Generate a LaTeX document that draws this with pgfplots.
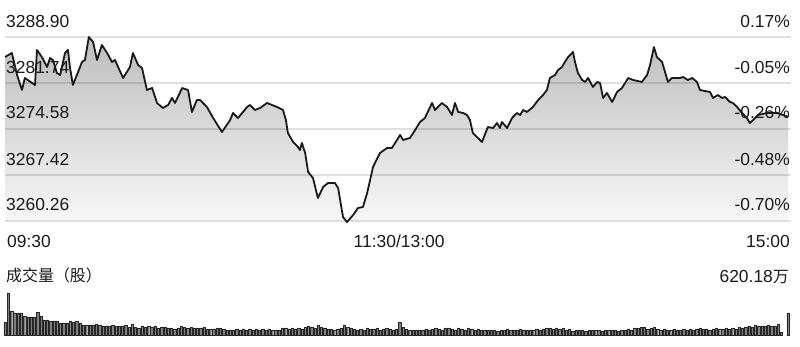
\documentclass[border=0pt]{standalone}
\usepackage{pgfplots}
\pgfplotsset{compat=1.18}
\usepackage{pgfplotstable}
\usepackage{fontspec}
\setmainfont{Liberation Sans}
\newfontfamily\cjk{Noto Sans CJK SC}
\definecolor{txt}{HTML}{1A1A1A}
\tikzset{lab/.style={text=txt, inner sep=0pt}}

\pgfplotstableread{
t p
0 3285.79
2.1 3286.41
3.7 3282.99
5.2 3280.65
6.1 3282.52
8.3 3281.74
9.2 3281.43
9.8 3286.88
11.3 3285.79
12.9 3284.23
13.8 3285.63
14.7 3285.32
15.9 3283.30
16.9 3282.99
18.4 3286.41
19.3 3286.88
19.9 3284.23
20.8 3281.43
22.4 3283.45
23.6 3285.01
24.5 3285.32
25.7 3288.90
27.0 3288.12
28.2 3285.32
29.7 3287.65
31.3 3286.41
32.8 3285.01
33.7 3285.32
36.2 3282.52
38.3 3284.23
39.2 3286.41
40.8 3284.54
42.0 3284.07
43.5 3280.65
45.1 3280.96
46.6 3278.63
48.4 3277.85
50.0 3278.32
51.2 3279.41
52.1 3278.63
54.3 3280.96
56.1 3280.65
57.3 3277.23
58.8 3279.09
59.8 3279.09
61.9 3278.00
63.8 3276.29
66.5 3274.11
69.0 3275.98
69.9 3277.07
71.4 3276.29
74.2 3278.00
75.1 3278.32
76.6 3277.54
78.2 3277.85
80.3 3278.63
83.4 3278.00
85.2 3277.54
86.1 3275.98
86.7 3273.96
88.3 3272.56
89.8 3271.78
90.4 3271.31
91.0 3272.40
92.0 3270.84
92.9 3267.89
94.4 3266.95
95.9 3263.84
97.5 3265.55
99.0 3266.18
101.1 3266.18
102.1 3265.40
103.6 3260.88
104.8 3260.10
106.7 3261.19
108.2 3262.28
109.7 3262.44
111.0 3264.62
112.8 3268.67
114.9 3270.84
117.1 3271.62
118.6 3271.62
121.1 3273.65
122.0 3272.87
124.1 3273.18
125.7 3274.42
127.2 3275.67
128.7 3276.29
130.9 3278.63
131.8 3277.54
133.9 3278.63
135.5 3278.00
137.0 3276.76
137.9 3278.63
138.9 3277.23
140.4 3277.07
141.6 3276.76
142.5 3275.98
143.4 3273.96
146.2 3272.56
148.0 3274.89
149.6 3274.74
150.8 3275.51
151.7 3274.74
152.3 3275.67
153.9 3274.74
155.4 3276.29
156.9 3277.07
157.9 3276.76
158.8 3277.54
160.0 3277.23
161.8 3278.00
163.4 3279.09
164.9 3279.87
166.1 3280.65
167.0 3282.52
168.6 3282.99
169.5 3283.76
170.7 3284.23
171.6 3285.01
172.6 3285.79
174.1 3286.57
174.7 3285.01
175.6 3283.30
176.9 3282.21
177.8 3281.90
178.7 3282.52
180.2 3281.12
181.5 3281.90
182.4 3281.74
183.3 3279.41
184.5 3280.18
186.1 3278.78
187.6 3280.34
189.1 3280.96
191.0 3282.52
192.5 3282.21
195.2 3281.90
196.8 3282.99
197.7 3284.54
198.9 3287.34
199.8 3285.79
201.4 3285.01
202.3 3283.45
203.2 3281.90
204.4 3282.52
206.9 3282.52
207.8 3282.67
209.3 3282.21
210.6 3282.52
212.1 3281.90
213.0 3280.65
216.1 3280.34
217.0 3279.41
218.5 3279.87
219.8 3279.41
220.7 3279.56
222.2 3278.78
223.1 3278.63
224.4 3278.00
225.9 3277.07
227.4 3276.29
228.3 3275.51
229.3 3275.98
230.8 3276.76
233.6 3277.07
236.6 3277.07
238.5 3276.76
240 3276.45
}\pricedata

\begin{document}
\fontsize{17.5}{20}\selectfont
\begin{tikzpicture}
\path[use as bounding box, fill=white] (0,0) rectangle (800bp,347bp);
\begin{axis}[at={(5bp,126bp)}, anchor=south west, scale only axis,
  width=786.3bp, height=221bp, xmin=0, xmax=241,
  ymin=3260.26, ymax=3294.66, hide axis, clip=false]
\addplot[draw=none, top color=black!26, bottom color=black!3] table[x=t,y=p]{\pricedata}
  -- (axis cs:240,3260.26) -- (axis cs:0,3260.26) -- cycle;
\addplot[black, opacity=0.12, line width=1.6bp] coordinates {(0,3288.90)(241,3288.90)};
\addplot[black, opacity=0.12, line width=1.6bp] coordinates {(0,3281.74)(241,3281.74)};
\addplot[black, opacity=0.12, line width=1.6bp] coordinates {(0,3274.58)(241,3274.58)};
\addplot[black, opacity=0.12, line width=1.6bp] coordinates {(0,3267.42)(241,3267.42)};
\addplot[black, opacity=0.12, line width=1.6bp] coordinates {(0,3260.26)(241,3260.26)};
\addplot[black!90, line width=1.8bp, line join=round] table[x=t,y=p]{\pricedata};
\node[lab, anchor=base west, xshift=1bp, yshift=10bp] at (axis cs:0,3288.90) {3288.90};
\node[lab, anchor=base west, xshift=1bp, yshift=10bp] at (axis cs:0,3281.74) {3281.74};
\node[lab, anchor=base west, xshift=1bp, yshift=10bp] at (axis cs:0,3274.58) {3274.58};
\node[lab, anchor=base west, xshift=1bp, yshift=10bp] at (axis cs:0,3267.42) {3267.42};
\node[lab, anchor=base west, xshift=1bp, yshift=10bp] at (axis cs:0,3260.26) {3260.26};
\node[lab, anchor=base east, xshift=2bp, yshift=10bp] at (axis cs:240,3288.90) {0.17\%};
\node[lab, anchor=base east, xshift=2bp, yshift=10bp] at (axis cs:240,3281.74) {-0.05\%};
\node[lab, anchor=base east, xshift=2bp, yshift=10bp] at (axis cs:240,3274.58) {-0.26\%};
\node[lab, anchor=base east, xshift=2bp, yshift=10bp] at (axis cs:240,3267.42) {-0.48\%};
\node[lab, anchor=base east, xshift=2bp, yshift=10bp] at (axis cs:240,3260.26) {-0.70\%};
\node[lab, anchor=base west, xshift=2bp, yshift=-26.5bp] at (axis cs:0,3260.26) {09:30};
\node[lab, anchor=base, yshift=-26.5bp] at (axis cs:120.8,3260.26) {11:30/13:00};
\node[lab, anchor=base east, xshift=2bp, yshift=-26.5bp] at (axis cs:240,3260.26) {15:00};
\node[lab, anchor=base west, xshift=1bp, yshift=-60.5bp] at (axis cs:0,3260.26) {\cjk\fontsize{16}{18}\selectfont 成交量（股）};
\node[lab, anchor=base east, xshift=1bp, yshift=-61.5bp] at (axis cs:240,3260.26) {620.18\cjk\fontsize{16}{18}\selectfont 万};
\end{axis}
\begin{axis}[at={(5bp,12bp)}, anchor=south west, scale only axis,
  width=786.3bp, height=42bp, xmin=0, xmax=241, ymin=0, ymax=620.18,
  hide axis, clip=false, ybar, bar width=2.3bp]
\addplot[fill=black!50, draw=black!85, line width=0.35bp] coordinates {
(0,192.0)(1,620.2)(2,354.4)(3,324.9)(4,324.9)(5,324.9)(6,280.6)(7,265.8)(8,265.8)(9,265.8)
(10,339.6)(11,280.6)(12,221.5)(13,221.5)(14,206.7)(15,206.7)(16,206.7)(17,177.2)(18,177.2)(19,177.2)
(20,206.7)(21,192.0)(22,206.7)(23,177.2)(24,147.7)(25,147.7)(26,147.7)(27,147.7)(28,162.4)(29,147.7)
(30,132.9)(31,132.9)(32,132.9)(33,147.7)(34,132.9)(35,132.9)(36,132.9)(37,147.7)(38,118.1)(39,162.4)
(40,118.1)(41,103.4)(42,132.9)(43,118.1)(44,132.9)(45,118.1)(46,132.9)(47,103.4)(48,118.1)(49,118.1)
(50,103.4)(51,103.4)(52,88.6)(53,103.4)(54,132.9)(55,118.1)(56,103.4)(57,118.1)(58,103.4)(59,103.4)
(60,103.4)(61,118.1)(62,88.6)(63,88.6)(64,88.6)(65,103.4)(66,103.4)(67,88.6)(68,73.8)(69,73.8)
(70,73.8)(71,88.6)(72,73.8)(73,88.6)(74,73.8)(75,88.6)(76,73.8)(77,88.6)(78,73.8)(79,88.6)
(80,73.8)(81,88.6)(82,73.8)(83,73.8)(84,73.8)(85,103.4)(86,103.4)(87,88.6)(88,103.4)(89,88.6)
(90,103.4)(91,88.6)(92,118.1)(93,132.9)(94,118.1)(95,103.4)(96,147.7)(97,118.1)(98,103.4)(99,88.6)
(100,88.6)(101,73.8)(102,88.6)(103,103.4)(104,147.7)(105,118.1)(106,103.4)(107,88.6)(108,73.8)(109,88.6)
(110,73.8)(111,103.4)(112,88.6)(113,88.6)(114,103.4)(115,73.8)(116,88.6)(117,103.4)(118,88.6)(119,73.8)
(120,88.6)(121,192.0)(122,118.1)(123,88.6)(124,73.8)(125,73.8)(126,73.8)(127,73.8)(128,73.8)(129,88.6)
(130,73.8)(131,88.6)(132,103.4)(133,88.6)(134,73.8)(135,103.4)(136,103.4)(137,88.6)(138,73.8)(139,103.4)
(140,88.6)(141,73.8)(142,103.4)(143,88.6)(144,73.8)(145,88.6)(146,73.8)(147,73.8)(148,73.8)(149,73.8)
(150,73.8)(151,59.1)(152,73.8)(153,73.8)(154,88.6)(155,73.8)(156,73.8)(157,73.8)(158,88.6)(159,73.8)
(160,73.8)(161,73.8)(162,73.8)(163,88.6)(164,73.8)(165,88.6)(166,103.4)(167,103.4)(168,88.6)(169,103.4)
(170,88.6)(171,103.4)(172,73.8)(173,88.6)(174,59.1)(175,73.8)(176,73.8)(177,73.8)(178,59.1)(179,73.8)
(180,73.8)(181,73.8)(182,73.8)(183,59.1)(184,73.8)(185,73.8)(186,73.8)(187,73.8)(188,59.1)(189,73.8)
(190,73.8)(191,88.6)(192,73.8)(193,103.4)(194,103.4)(195,118.1)(196,118.1)(197,88.6)(198,103.4)(199,118.1)
(200,88.6)(201,73.8)(202,88.6)(203,73.8)(204,73.8)(205,88.6)(206,73.8)(207,73.8)(208,88.6)(209,73.8)
(210,88.6)(211,73.8)(212,88.6)(213,103.4)(214,88.6)(215,88.6)(216,73.8)(217,88.6)(218,103.4)(219,88.6)
(220,88.6)(221,103.4)(222,88.6)(223,103.4)(224,88.6)(225,118.1)(226,103.4)(227,118.1)(228,132.9)(229,118.1)
(230,147.7)(231,132.9)(232,132.9)(233,132.9)(234,147.7)(235,132.9)(236,132.9)(237,162.4)(238,44.3)
(240,324.9)};
\end{axis}
\end{tikzpicture}
\end{document}
